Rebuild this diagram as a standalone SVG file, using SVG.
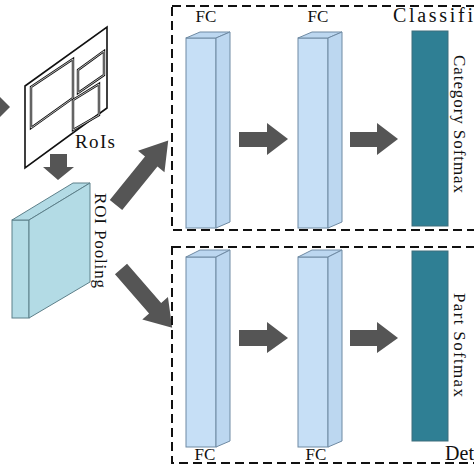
<svg xmlns="http://www.w3.org/2000/svg" width="474" height="474" viewBox="0 0 474 474">
<style>
.arrow{fill:#555555;}
.dash{fill:none;stroke:#111;stroke-width:2;stroke-dasharray:9,5;}
.fcf{fill:#c6dff6;stroke:#6f8aa3;stroke-width:1;}
.fcs{fill:#bcd7f0;stroke:#6f8aa3;stroke-width:1;}
.teal{fill:#2f7f94;stroke:#3f6f7c;stroke-width:1;}
.pool{fill:#b3dbe5;stroke:#5d808a;stroke-width:1;}
.panel{fill:#fff;stroke:#111;stroke-width:1.6;}
.roi{fill:none;stroke:#111;stroke-width:2.4;}
.roiw{fill:none;stroke:#fff;stroke-width:0.7;}
.t{font-family:"Liberation Serif","Times New Roman",serif;fill:#111;}
</style>

<g id="connectors">
  <polygon class="arrow" points="0,97 10,107 0,117"/>
  <polygon class="arrow" points="50,154 67,154 67,167 74,167 58,180 43,167 50,167"/>
  <polygon class="arrow" transform="translate(116,205) rotate(-51)" points="0,-8 56,-8 56,-17 83,0 56,17 56,8 0,8"/>
  <polygon class="arrow" transform="translate(121,269) rotate(49)" points="0,-8 52,-8 52,-17 78,0 52,17 52,8 0,8"/>
  <polygon class="arrow" points="239,132 267,132 267,123 288,139 267,155 267,147 239,147"/>
  <polygon class="arrow" points="350,132 377,132 377,123 398,139 377,155 377,147 350,147"/>
  <polygon class="arrow" points="239,330 267,330 267,322 288,338 267,353 267,346 239,346"/>
  <polygon class="arrow" points="350,330 377,330 377,322 398,338 377,353 377,346 350,346"/>
</g>

<g id="rois">
  <polygon class="panel" points="25,86 107,27 107,108 25,168"/>
  <polygon class="roi" points="31,87 73,59 73,98 31,128"/>
  <polygon class="roiw" points="31,87 73,59 73,98 31,128"/>
  <polygon class="roi" points="78,70 104,51 104,75 78,93"/>
  <polygon class="roiw" points="78,70 104,51 104,75 78,93"/>
  <polygon class="roi" points="73,100 99,84 99,115 73,130"/>
  <polygon class="roiw" points="73,100 99,84 99,115 73,130"/>
  <text class="t" x="75" y="148" font-size="19" textLength="40" lengthAdjust="spacing">RoIs</text>
</g>

<g id="roi-pooling">
  <rect class="pool" x="12" y="220" width="17" height="98"/>
  <polygon class="pool" points="12,220 73,183 90,183 29,220"/>
  <polygon class="pool" points="29,220 90,183 90,282 29,318"/>
  <text class="t" transform="translate(95,193) rotate(90)" font-size="17" textLength="95" lengthAdjust="spacing">ROI Pooling</text>
</g>

<g id="classification-box">
  <rect class="dash" x="172" y="6" width="320" height="224"/>
  <text class="t" x="393" y="22" font-size="20" textLength="80" lengthAdjust="spacing">Classifi</text>
</g>

<g id="detection-box">
  <rect class="dash" x="172" y="247" width="320" height="216"/>
  <text class="t" x="445" y="460" font-size="20" textLength="29" lengthAdjust="spacing">Det</text>
</g>

<g id="fc-top-1">
  <rect class="fcf" x="186" y="38" width="30" height="190"/>
  <polygon class="fcs" points="186,38 200,32 230,32 216,38"/>
  <polygon class="fcs" points="216,38 230,32 230,222 216,228"/>
  <text class="t" x="206" y="22" font-size="17" text-anchor="middle">FC</text>
</g>
<g id="fc-top-2">
  <rect class="fcf" x="298" y="38" width="30" height="190"/>
  <polygon class="fcs" points="298,38 312,32 342,32 328,38"/>
  <polygon class="fcs" points="328,38 342,32 342,222 328,228"/>
  <text class="t" x="318" y="22" font-size="17" text-anchor="middle">FC</text>
</g>
<g id="category-softmax">
  <rect class="teal" x="412" y="31" width="36" height="195"/>
  <text class="t" transform="translate(454,55) rotate(90)" font-size="17" textLength="138" lengthAdjust="spacing">Category Softmax</text>
</g>

<g id="fc-bottom-1">
  <rect class="fcf" x="186" y="257" width="30" height="190"/>
  <polygon class="fcs" points="186,257 200,250 230,250 216,257"/>
  <polygon class="fcs" points="216,257 230,250 230,441 216,447"/>
  <text class="t" x="205" y="460" font-size="17" text-anchor="middle">FC</text>
</g>
<g id="fc-bottom-2">
  <rect class="fcf" x="298" y="257" width="30" height="190"/>
  <polygon class="fcs" points="298,257 312,250 342,250 328,257"/>
  <polygon class="fcs" points="328,257 342,250 342,441 328,447"/>
  <text class="t" x="316" y="460" font-size="17" text-anchor="middle">FC</text>
</g>
<g id="part-softmax">
  <rect class="teal" x="412" y="251" width="36" height="190"/>
  <text class="t" transform="translate(454,293) rotate(90)" font-size="17" textLength="104" lengthAdjust="spacing">Part Softmax</text>
</g>
</svg>
